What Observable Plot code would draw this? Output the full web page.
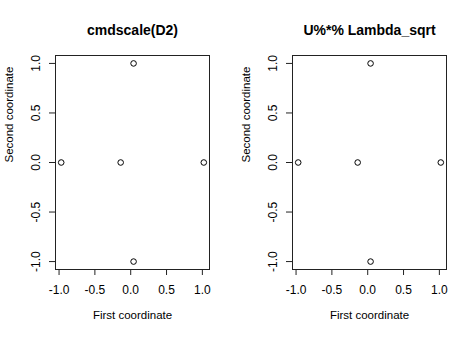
<!DOCTYPE html>
<html>
<head>
<meta charset="utf-8">
<script src="https://cdn.jsdelivr.net/npm/d3@7"></script>
<script src="https://cdn.jsdelivr.net/npm/@observablehq/plot@0.6"></script>
<style>
  html, body { margin: 0; padding: 0; background: #fff; }
  #row { display: flex; flex-direction: row; width: 474px; height: 338px; }
  svg { display: block; }
</style>
</head>
<body>
<div id="row"></div>
<script>
// Data
const titles = ["cmdscale(D2)", "U%*% Lambda_sqrt"];
const firstCoord = [-0.97, -0.14, 0.04, 0.04, 1.02];
const secondCoord = [0.00, 0.00, 1.00, -1.00, 0.00];
const tickValues = [-1.0, -0.5, 0.0, 0.5, 1.0];
const tickLabels = ["-1.0", "-0.5", "0.0", "0.5", "1.0"];
const xLabel = "First coordinate";
const yLabel = "Second coordinate";

const points = firstCoord.map((x, i) => ({x, y: secondCoord[i]}));

// R-style 4% padding around the data range
function pad(vals) {
  const [lo, hi] = d3.extent(vals);
  const d = (hi - lo) * 0.04;
  return [lo - d, hi + d];
}
const xDomain = pad(firstCoord);
const yDomain = pad(secondCoord);
const fmt = (v) => tickLabels[tickValues.indexOf(v)];
const font = "Liberation Sans, Arial, Helvetica, sans-serif";

const row = document.getElementById("row");
for (const title of titles) {
  const chart = Plot.plot({
    width: 237,
    height: 338,
    marginLeft: 55,
    marginRight: 28,
    marginTop: 55,
    marginBottom: 69,
    style: {fontFamily: font, fontSize: "12px", color: "#000", background: "#fff"},
    x: {domain: xDomain},
    y: {domain: yDomain},
    marks: [
      Plot.frame({stroke: "#222", strokeWidth: 1}),
      Plot.axisX({ticks: tickValues, tickFormat: fmt, tickSize: 6, tickPadding: 10, label: null, stroke: "#222", fontSize: 12}),
      Plot.axisY({ticks: tickValues, tickFormat: fmt, tickSize: 6, tickPadding: 10, tickRotate: -90, label: null, stroke: "#222", fontSize: 12}),
      Plot.dot(points, {x: "x", y: "y", r: 2.8, stroke: "#000", strokeWidth: 1, fill: "none"}),
      Plot.text([title], {frameAnchor: "top", dy: -30, fontWeight: "bold", fontSize: 14, fill: "#000"}),
      Plot.text([xLabel], {frameAnchor: "bottom", dy: 49, fontSize: 11.5, fill: "#000"}),
      Plot.text([yLabel], {frameAnchor: "left", dx: -46, rotate: -90, fontSize: 11.5, fill: "#000"})
    ]
  });
  row.appendChild(chart);
}
</script>
</body>
</html>
